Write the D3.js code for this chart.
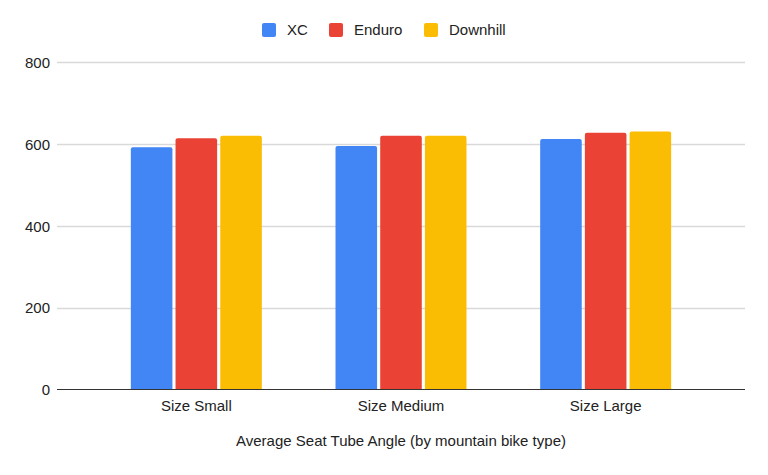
<!DOCTYPE html>
<html>
<head>
<meta charset="utf-8">
<script src="https://cdn.jsdelivr.net/npm/d3@7"></script>
<style>
  body { margin: 0; background: #fff; }
  text { font-family: "Liberation Sans", Arial, sans-serif; fill: #222; }
</style>
</head>
<body>
<svg id="chart" width="768" height="475"></svg>
<script>
// chart data
var categories = ["Size Small", "Size Medium", "Size Large"];
var seriesNames = ["XC", "Enduro", "Downhill"];
var xcValues = [592, 595, 612];
var enduroValues = [614, 620, 627];
var downhillValues = [620, 620, 630];
var yTicks = [0, 200, 400, 600, 800];
var colors = ["#4285F4", "#EA4335", "#FBBC04"];

var allValues = [xcValues, enduroValues, downhillValues];

var svg = d3.select("#chart");
var plotLeft = 57, plotRight = 745, plotTop = 62, plotBottom = 389.5;
var fontSize = 15;

var y = d3.scaleLinear().domain([0, 800]).range([plotBottom, plotTop]);

var x0 = d3.scaleBand()
  .domain(categories)
  .range([94, 708])
  .paddingInner(0.36)
  .paddingOuter(0.18);

var x1 = d3.scaleBand()
  .domain(seriesNames)
  .range([0, x0.bandwidth()])
  .paddingInner(0.07);

// gridlines
var grid = svg.append("g");
grid.selectAll("line")
  .data(yTicks.filter(function(d){ return d > 0; }))
  .enter()
  .append("line")
  .attr("x1", plotLeft)
  .attr("x2", plotRight)
  .attr("y1", function(d){ return Math.round(y(d)) + 0.5; })
  .attr("y2", function(d){ return Math.round(y(d)) + 0.5; })
  .attr("stroke", "#d9d9d9")
  .attr("stroke-width", 1.5);

// y labels
var yAxis = d3.axisLeft(y).tickValues(yTicks).tickSize(0).tickPadding(0);
var yg = svg.append("g")
  .attr("transform", "translate(50,0)")
  .call(yAxis);
yg.select(".domain").remove();
yg.selectAll("text")
  .attr("font-size", fontSize)
  .attr("dy", "0.35em")
  .style("font-family", "'Liberation Sans', Arial, sans-serif")
  .style("fill", "#222");

// bars
var groups = svg.selectAll(".grp")
  .data(categories)
  .enter()
  .append("g")
  .attr("class", "grp")
  .attr("transform", function(d){ return "translate(" + x0(d) + ",0)"; });

groups.selectAll("path")
  .data(function(d, i){
    return seriesNames.map(function(s, j){ return {series: s, value: allValues[j][i], idx: j}; });
  })
  .enter()
  .append("path")
  .attr("fill", function(d){ return colors[d.idx]; })
  .attr("d", function(d){
    var bx = x1(d.series), bw = x1.bandwidth(), by = y(d.value), r = 2;
    return "M" + bx + "," + plotBottom +
      "V" + (by + r) +
      "Q" + bx + "," + by + " " + (bx + r) + "," + by +
      "H" + (bx + bw - r) +
      "Q" + (bx + bw) + "," + by + " " + (bx + bw) + "," + (by + r) +
      "V" + plotBottom + "Z";
  });

// baseline
svg.append("line")
  .attr("x1", plotLeft)
  .attr("x2", plotRight)
  .attr("y1", y(0))
  .attr("y2", y(0))
  .attr("stroke", "#333")
  .attr("stroke-width", 1.2);

// x labels
var xAxis = d3.axisBottom(x0).tickSize(0).tickPadding(0);
var xg = svg.append("g")
  .attr("transform", "translate(0,406)")
  .call(xAxis);
xg.select(".domain").remove();
xg.selectAll("text")
  .attr("font-size", fontSize)
  .attr("dy", "0.35em")
  .style("font-family", "'Liberation Sans', Arial, sans-serif")
  .style("fill", "#222");

// axis title
svg.append("text")
  .attr("x", 401)
  .attr("y", 441)
  .attr("dy", "0.35em")
  .attr("text-anchor", "middle")
  .attr("font-size", fontSize)
  .text("Average Seat Tube Angle (by mountain bike type)");

// legend
var legendX = [262, 329, 424];
var legend = svg.selectAll(".leg")
  .data(seriesNames)
  .enter()
  .append("g")
  .attr("class", "leg")
  .attr("transform", function(d, i){ return "translate(" + legendX[i] + ",23)"; });

legend.append("rect")
  .attr("width", 14)
  .attr("height", 14)
  .attr("rx", 2)
  .attr("fill", function(d, i){ return colors[i]; });

legend.append("text")
  .attr("x", 25)
  .attr("y", 7)
  .attr("dy", "0.35em")
  .attr("font-size", fontSize)
  .text(function(d){ return d; });
</script>
</body>
</html>
